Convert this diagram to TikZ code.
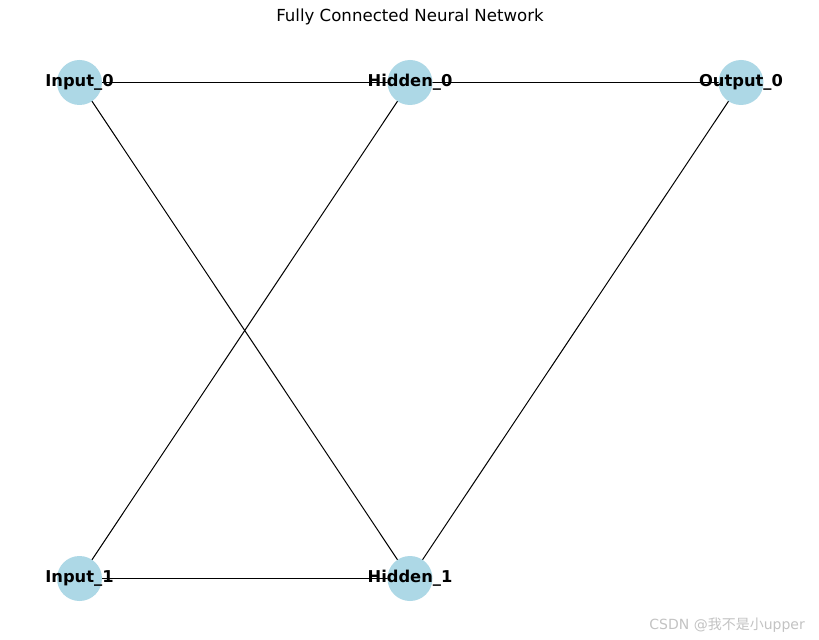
\documentclass[tikz,border=0pt]{standalone}
\usepackage{fontspec}
\setmainfont{DejaVu Sans}
\newfontfamily\cjk{Noto Sans CJK SC}
\definecolor{lightblue}{RGB}{173,216,230}
\definecolor{wmgray}{RGB}{195,195,195}
\begin{document}
\begin{tikzpicture}[x=1bp,y=-1bp,
  neuron/.style={circle,fill=lightblue,draw=none,minimum size=45bp,inner sep=0pt},
  lbl/.style={font=\fontsize{16.3bp}{18bp}\selectfont\bfseries,inner sep=0pt},
  edge/.style={draw=black,line width=1bp}]
\useasboundingbox (0,0) rectangle (819,640);
\fill[white] (0,0) rectangle (819,640);
\node[font=\fontsize{16.6bp}{19bp}\selectfont,inner sep=0pt] (title) at (410,17) {Fully Connected Neural Network};
\coordinate (i0) at (79.5,82.5);
\coordinate (h0) at (410,82.5);
\coordinate (o0) at (741,82.5);
\coordinate (i1) at (79.5,578.5);
\coordinate (h1) at (410,578.5);
\draw[edge] (i0) -- (h0);
\draw[edge] (i0) -- (h1);
\draw[edge] (i1) -- (h0);
\draw[edge] (i1) -- (h1);
\draw[edge] (h0) -- (o0);
\draw[edge] (h1) -- (o0);
\node[neuron] (ni0) at (i0) {};
\node[neuron] (nh0) at (h0) {};
\node[neuron] (no0) at (o0) {};
\node[neuron] (ni1) at (i1) {};
\node[neuron] (nh1) at (h1) {};
\node[lbl] (ti0) at (i0) {Input\_0};
\node[lbl] (th0) at (h0) {Hidden\_0};
\node[lbl] (to0) at (o0) {Output\_0};
\node[lbl] (ti1) at (i1) {Input\_1};
\node[lbl] (th1) at (h1) {Hidden\_1};
\node[anchor=east,inner sep=0pt,text=wmgray,font=\fontsize{14bp}{16bp}\selectfont] (wm) at (805,625) {CSDN @{\cjk 我不是小}upper};
\end{tikzpicture}
\end{document}
